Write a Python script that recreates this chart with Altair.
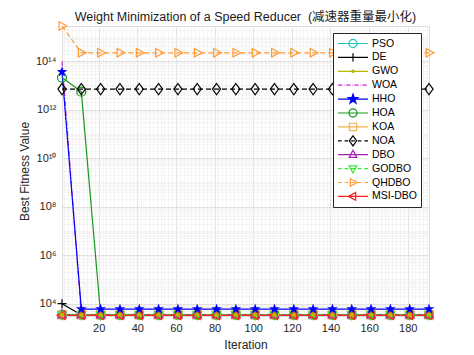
import math
import altair as alt
import pandas as pd

# ---------------- data ----------------
iterations = [1, 11, 21, 31, 41, 51, 61, 71, 81, 91, 101, 111, 121, 131, 141, 151, 161, 171, 181, 191]
algorithms = ["PSO", "DE", "GWO", "WOA", "HHO", "HOA", "KOA", "NOA", "DBO", "GODBO", "QHDBO", "MSI-DBO"]

pso = [3500, 3450, 3450, 3450, 3450, 3450, 3450, 3450, 3450, 3450, 3450, 3450, 3450, 3450, 3450, 3450, 3450, 3450, 3450, 3450]
de = [10000, 3450, 3450, 3450, 3450, 3450, 3450, 3450, 3450, 3450, 3450, 3450, 3450, 3450, 3450, 3450, 3450, 3450, 3450, 3450]
gwo = [3450, 3450, 3450, 3450, 3450, 3450, 3450, 3450, 3450, 3450, 3450, 3450, 3450, 3450, 3450, 3450, 3450, 3450, 3450, 3450]
woa = [1.0e14, 3450, 3450, 3450, 3450, 3450, 3450, 3450, 3450, 3450, 3450, 3450, 3450, 3450, 3450, 3450, 3450, 3450, 3450, 3450]
hho = [3.6e13, 6000, 6000, 6000, 6000, 6000, 6000, 6000, 6000, 6000, 6000, 6000, 6000, 6000, 6000, 6000, 6000, 6000, 6000, 6000]
hoa = [2.1e13, 5.5e12, 3450, 3450, 3450, 3450, 3450, 3450, 3450, 3450, 3450, 3450, 3450, 3450, 3450, 3450, 3450, 3450, 3450, 3450]
koa = [3450, 3450, 3450, 3450, 3450, 3450, 3450, 3450, 3450, 3450, 3450, 3450, 3450, 3450, 3450, 3450, 3450, 3450, 3450, 3450]
noa = [7e12, 7e12, 7e12, 7e12, 7e12, 7e12, 7e12, 7e12, 7e12, 7e12, 7e12, 7e12, 7e12, 7e12, 7e12, 7e12, 7e12, 7e12, 7e12, 7e12]
dbo = [3450, 3450, 3450, 3450, 3450, 3450, 3450, 3450, 3450, 3450, 3450, 3450, 3450, 3450, 3450, 3450, 3450, 3450, 3450, 3450]
godbo = [3450, 3450, 3450, 3450, 3450, 3450, 3450, 3450, 3450, 3450, 3450, 3450, 3450, 3450, 3450, 3450, 3450, 3450, 3450, 3450]
qhdbo = [2.8e15, 2.2e14, 2.2e14, 2.2e14, 2.2e14, 2.2e14, 2.2e14, 2.2e14, 2.2e14, 2.2e14, 2.2e14, 2.2e14, 2.2e14, 2.2e14, 2.2e14, 2.2e14, 2.2e14, 2.2e14, 2.2e14, 2.2e14]
msidbo = [3300, 3300, 3300, 3300, 3300, 3300, 3300, 3300, 3300, 3300, 3300, 3300, 3300, 3300, 3300, 3300, 3300, 3300, 3300, 3300]

series = [pso, de, gwo, woa, hho, hoa, koa, noa, dbo, godbo, qhdbo, msidbo]

x_ticks = [20, 40, 60, 80, 100, 120, 140, 160, 180]
y_ticks = [1e4, 1e6, 1e8, 1e10, 1e12, 1e14]
y_tick_labels = ["10⁴", "10⁶", "10⁸", "10¹⁰", "10¹²", "10¹⁴"]

title_text = "Weight Minimization of a Speed Reducer\u00a0 (减速器重量最小化)"

# ---------------- styles ----------------
colors = ["#1fc4c4", "#000000", "#b8b800", "#cc33cc", "#0000ff", "#1a961a",
          "#f2b24c", "#000000", "#a020b0", "#33e633", "#ff9933", "#ff2020"]
line_style = ["solid", "solid", "solid", "dashdot", "solid", "solid",
              "solid", "dash", "solid", "dash", "dash", "solid"]
markers = ["circle", "plus", "dot", "none", "star", "circle",
           "square", "diamond", "tri_up", "tri_down", "tri_right", "tri_left"]
filled_algos = ["GWO", "HHO"]

FONT = "Liberation Sans, Arial, Noto Sans CJK SC"
TXT = "#262626"


def f(v):
    return f"{v:.3f}".rstrip("0").rstrip(".")


def circ(r):
    return f"M{f(-r)},0A{f(r)},{f(r)} 0 1,0 {f(r)},0A{f(r)},{f(r)} 0 1,0 {f(-r)},0Z"


def star(r):
    pts = []
    for i in range(10):
        rad = r * 1.25 if i % 2 == 0 else r * 0.5
        ang = -math.pi / 2 + i * math.pi / 5
        pts.append(f"{f(rad*math.cos(ang))},{f(rad*math.sin(ang))}")
    return "M" + "L".join(pts) + "Z"


def marker_path(kind, r, legend=False):
    if kind == "circle":
        return circ(r)
    if kind == "dot":
        return circ(r * 0.3) if legend else circ(r * 0.5)
    if kind == "square":
        q = r * 0.9
        return f"M{f(-q)},{f(-q)}H{f(q)}V{f(q)}H{f(-q)}Z"
    if kind == "diamond":
        return f"M0,{f(-r*1.25)}L{f(r*0.9)},0L0,{f(r*1.25)}L{f(-r*0.9)},0Z"
    if kind == "plus":
        return f"M{f(-r)},0H{f(r)}M0,{f(-r)}V{f(r)}"
    if kind == "tri_up":
        return f"M0,{f(-r*1.1)}L{f(r*0.95)},{f(r*0.65)}L{f(-r*0.95)},{f(r*0.65)}Z"
    if kind == "tri_down":
        return f"M0,{f(r*1.1)}L{f(r*0.95)},{f(-r*0.65)}L{f(-r*0.95)},{f(-r*0.65)}Z"
    if kind == "tri_right":
        return f"M{f(r*1.1)},0L{f(-r*0.65)},{f(-r*0.95)}L{f(-r*0.65)},{f(r*0.95)}Z"
    if kind == "tri_left":
        return f"M{f(-r*1.1)},0L{f(r*0.65)},{f(-r*0.95)}L{f(r*0.65)},{f(r*0.95)}Z"
    if kind == "star":
        if legend:  # nested outlines so the legend star reads as filled
            return star(r) + star(r * 0.66) + star(r * 0.33)
        return star(r)
    return "M0,0"


def line_path(style):
    if style == "solid":
        return "M-1,0H1"
    segs = []
    if style == "dash":
        dash, gap = 0.24, 0.2
        x = -1.0
        while x < 1.0 - 1e-6:
            segs.append((x, min(x + dash, 1.0)))
            x += dash + gap
    else:  # dash-dot
        x = -1.0
        pattern = [(0.3, 0.1), (0.04, 0.1)]
        i = 0
        while x < 1.0 - 1e-6:
            d, g = pattern[i % 2]
            segs.append((x, min(x + d, 1.0)))
            x += d + g
            i += 1
    return "".join(f"M{f(a)},0H{f(b)}" for a, b in segs)


plot_shapes = [marker_path(m, 1.0) for m in markers]
legend_shapes = [line_path(s) + (marker_path(m, 0.27, legend=True) if m != "none" else "")
                 for s, m in zip(line_style, markers)]
dash_map = {"solid": [1, 0], "dash": [5, 3], "dashdot": [5, 2, 1, 2]}
dashes = [dash_map[s] for s in line_style]

# ---------------- table ----------------
rows = []
for a, vals in zip(algorithms, series):
    for it, v in zip(iterations, vals):
        rows.append({"algo": a, "iteration": it, "value": v})
df = pd.DataFrame(rows)

# ---------------- axes ----------------
x_scale = alt.Scale(domain=[1, 191], nice=False, zero=False)
y_scale = alt.Scale(type="log", domain=[3100, 2.8e15], nice=False)

label_expr = " : ".join(f"datum.value == {v:g} ? '{t}'" for v, t in zip(y_ticks, y_tick_labels)) + " : ''"

major_x = alt.Axis(values=x_ticks, orient="bottom", grid=True, gridColor="#dadada", gridWidth=0.8,
                   domain=False, ticks=False, labelPadding=6, labelFont=FONT, labelFontSize=11,
                   labelColor=TXT, title="Iteration", titleFont=FONT, titleFontSize=12,
                   titleFontWeight="normal", titleColor=TXT, titleY=32, titleBaseline="alphabetic")
major_y = alt.Axis(values=y_ticks, orient="left", labelExpr=label_expr, grid=True, gridColor="#dadada",
                   gridWidth=0.8, domain=False, ticks=False, labelPadding=6, labelFont=FONT,
                   labelFontSize=11, labelColor=TXT, title="Best Fitness Value", titleFont=FONT,
                   titleFontSize=12, titleFontWeight="normal", titleColor=TXT, titleX=-34, titleY=145,
                   titleBaseline="alphabetic", titleAngle=-90)

minor_x_vals = [v for v in range(2, 192, 2) if v % 20 != 0]
minor_y_vals = []
for d in range(3, 16):
    for k in range(1, 10):
        v = k * 10 ** d
        if 3100 <= v <= 2.8e15 and v not in y_ticks:
            minor_y_vals.append(v)

minor_x = alt.Axis(values=minor_x_vals, orient="bottom", grid=True, gridColor="#efefef", gridWidth=0.6,
                   domain=False, ticks=False, labels=False, title=None)
minor_y = alt.Axis(values=minor_y_vals, orient="left", grid=True, gridColor="#efefef", gridWidth=0.6,
                   domain=False, ticks=False, labels=False, title=None)

# ---------------- legend ----------------
legend = alt.Legend(
    orient="none", legendX=271, legendY=7, title=None, padding=4,
    strokeColor="#262626", fillColor="white", cornerRadius=0,
    labelFont=FONT, labelFontSize=10.5, labelColor="#000000", labelOffset=3,
    symbolSize=900, symbolStrokeWidth=1.2, symbolOffset=0, symbolOpacity=1,
    clipHeight=13, rowPadding=0.9,
)

color_scale = alt.Scale(domain=algorithms, range=colors)
X = lambda axis: alt.X("iteration:Q", scale=x_scale, axis=axis)
Y = lambda axis: alt.Y("value:Q", scale=y_scale, axis=axis)

base = alt.Chart(df)

grid_layer = base.mark_line(strokeOpacity=0).encode(
    x=X(minor_x), y=Y(minor_y), detail="algo:N",
)

lines = base.mark_line(strokeWidth=1.2, clip=False).encode(
    x=X(major_x), y=Y(major_y),
    color=alt.Color("algo:N", scale=color_scale, legend=None),
    strokeDash=alt.StrokeDash("algo:N", scale=alt.Scale(domain=algorithms, range=dashes), legend=None),
)

shape_enc = alt.Shape("algo:N", scale=alt.Scale(domain=algorithms, range=plot_shapes), legend=None)

hollow = base.transform_filter(
    alt.FieldOneOfPredicate(field="algo", oneOf=[a for a in algorithms if a not in filled_algos])
).mark_point(filled=False, size=81, strokeWidth=1.2, opacity=1).encode(
    x=X(None), y=Y(None),
    color=alt.Color("algo:N", scale=color_scale, legend=None),
    shape=shape_enc,
)

filled = base.transform_filter(
    alt.FieldOneOfPredicate(field="algo", oneOf=filled_algos)
).mark_point(filled=True, size=81, opacity=1).encode(
    x=X(None), y=Y(None),
    color=alt.Color("algo:N", scale=color_scale, legend=None),
    shape=shape_enc,
)

# invisible layer whose only job is the MATLAB-style legend (line + marker symbols)
legend_layer = base.mark_point(filled=False, size=900, strokeWidth=1.2, opacity=0).encode(
    x=X(None), y=Y(None),
    color=alt.Color("algo:N", scale=color_scale, legend=legend),
    shape=alt.Shape("algo:N", scale=alt.Scale(domain=algorithms, range=legend_shapes), legend=legend),
)

chart = alt.layer(grid_layer, lines, hollow, filled, legend_layer).resolve_axis(
    x="independent", y="independent"
).resolve_scale(
    color="independent", shape="independent"
).properties(
    width=367, height=290,
    title=alt.TitleParams(text=title_text, font=FONT, fontSize=12.5, fontWeight="normal",
                          color="#1a1a1a", anchor="middle", offset=6, dy=20, baseline="alphabetic"),
    autosize=alt.AutoSizeParams(type="none"),
    padding={"left": 62, "top": 26, "right": 45, "bottom": 39},
).configure_view(stroke="#262626", strokeWidth=1).configure(background="white")

chart.save("out.html", embed_options={"renderer": "svg", "actions": False})
